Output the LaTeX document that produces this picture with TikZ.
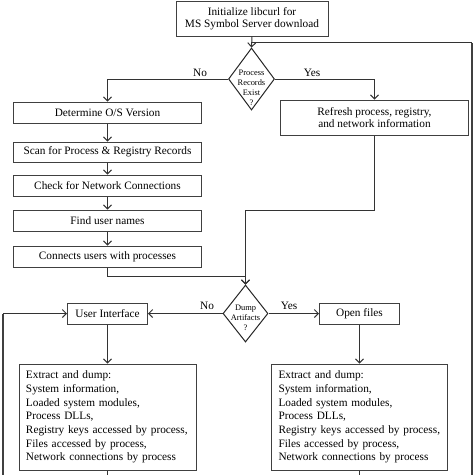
\documentclass[tikz,border=0pt]{standalone}
\usepackage{fontspec}
\setmainfont{Liberation Serif}
\usetikzlibrary{shapes.geometric,arrows.meta}
\begin{document}
\begin{tikzpicture}[x=1pt,y=-1pt,
  every node/.style={font=\fontsize{11.3}{12.5}\selectfont},
  box/.style={draw=black!75,line width=1pt,rectangle,inner sep=0pt,align=center},
  dec/.style={draw=black!85,line width=1pt,diamond,inner sep=0pt},
  dtext/.style={font=\fontsize{8.4}{10}\selectfont,align=center,inner sep=0pt},
  lbl/.style={inner sep=0pt},
  line/.style={draw=black!80,line width=1pt},
  edge/.style={draw=black!75,line width=1.6pt},
  arr/.style={line,-{Straight Barb[length=4pt,width=8pt,line width=1pt]}},
  bigbox/.style={box,align=left,font=\fontsize{11.3}{13.7}\selectfont}
]
\useasboundingbox (0,0) rectangle (474,475);
% nodes
\node[box,minimum width=152pt,minimum height=35pt] (init) at (252,18.5) {Initialize libcurl for\\MS Symbol Server download};
\node[dec,minimum width=46pt,minimum height=62pt] (d1) at (251.5,79) {};
\node[dtext] (d1t) at (251.5,87.5) {Process\\Records\\Exist\\?};
\node[box,minimum width=188pt,minimum height=21pt] (os) at (107.5,112.5) {Determine O/S Version};
\node[box,minimum width=188pt,minimum height=20pt] (scan) at (107.5,152) {Scan for Process \& Registry Records};
\node[box,minimum width=188pt,minimum height=21pt] (check) at (107.5,185.5) {Check for Network Connections};
\node[box,minimum width=188pt,minimum height=21pt] (find) at (107.5,220.5) {Find user names};
\node[box,minimum width=188pt,minimum height=21pt] (conn) at (107.5,256.5) {Connects users with processes};
\node[box,minimum width=188pt,minimum height=35pt] (refresh) at (374.5,117.5) {Refresh process, registry,\\and network information};
\node[dec,minimum width=45pt,minimum height=57pt] (d2) at (245.5,313.5) {};
\node[dtext] (d2t) at (245.5,318) {Dump\\Artifacts\\?};
\node[box,minimum width=80pt,minimum height=21pt] (ui) at (107.5,313.5) {User Interface};
\node[box,minimum width=80pt,minimum height=21pt] (open) at (359.5,313.5) {Open files};
\node[bigbox,minimum width=177pt,minimum height=106pt,text width=163pt] (ex1) at (107.5,417) {Extract and dump:\\System information,\\Loaded system modules,\\Process DLLs,\\Registry keys accessed by process,\\Files accessed by process,\\Network connections by process};
\node[bigbox,minimum width=176pt,minimum height=106pt,text width=162pt] (ex2) at (359.5,417) {Extract and dump:\\System information,\\Loaded system modules,\\Process DLLs,\\Registry keys accessed by process,\\Files accessed by process,\\Network connections by process};
\node[lbl] (no1) at (200,73) {No};
\node[lbl] (yes1) at (312,73) {Yes};
\node[lbl] (no2) at (207,306) {No};
\node[lbl] (yes2) at (289,306) {Yes};
% coordinates
\coordinate (rtop) at (472,42.5);
\coordinate (rbot) at (472,475);
\coordinate (lbot) at (3,475);
\coordinate (b1) at (107.5,475);
\coordinate (b2) at (359.5,475);
% connectors
\draw[arr] (init.south) -- (d1.north);
\draw[edge] (rbot) -- (rtop);
\draw[line] (rtop) -- (d1.north |- rtop);
\draw[arr] (d1.west) -| (os.north);
\draw[arr] (d1.east) -| (refresh.north);
\draw[arr] (os) -- (scan);
\draw[arr] (scan) -- (check);
\draw[arr] (check) -- (find);
\draw[arr] (find) -- (conn);
\draw[arr] (conn.south) |- ([yshift=-9pt]conn.south -| d2.north) -- (d2.north);
\draw[arr] (refresh.south) |- ([yshift=-75pt]refresh.south -| d2.north) -- (d2.north);
\draw[arr] (d2.west) -- (ui.east);
\draw[arr] (d2.east) -- (open.west);
\draw[edge] (lbot) -- (3,313.5);
\draw[arr] (3,313.5) -- (ui.west);
\draw[arr] (ui) -- (ex1);
\draw[arr] (open) -- (ex2);
\draw[line] (ex1.south) -- (b1);
\draw[line] (ex2.south) -- (b2);
\end{tikzpicture}
\end{document}
